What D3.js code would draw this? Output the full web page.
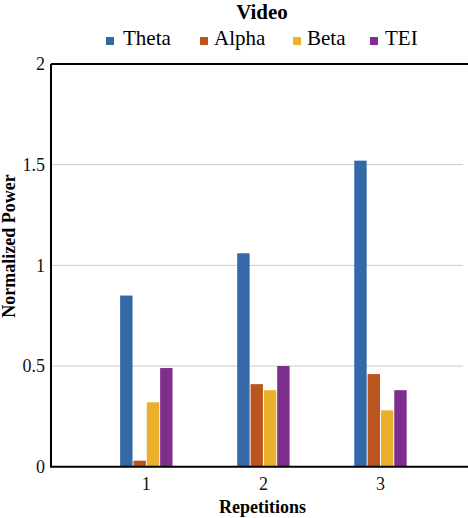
<!DOCTYPE html>
<html>
<head>
<meta charset="utf-8">
<script src="https://cdn.jsdelivr.net/npm/d3@7/dist/d3.min.js"></script>
</head>
<body style="margin:0">
<div id="chart"></div>
<script>
'use strict';

/* ── Data ── */
const categories = ['1', '2', '3'];
const seriesNames = ['Theta', 'Alpha', 'Beta', 'TEI'];
const theta = [0.85, 1.06, 1.52];
const alpha = [0.03, 0.41, 0.46];
const beta  = [0.32, 0.38, 0.28];
const tei   = [0.49, 0.50, 0.38];
const yTicks = [0, 0.5, 1, 1.5, 2];
const yTickLabels = ['0', '0.5', '1', '1.5', '2'];
const colors = ['#3469a7', '#bb551f', '#ebb02b', '#7e2f8d'];

const seriesValues = [theta, alpha, beta, tei];
const SERIF = 'Liberation Serif';

/* ── Layout ── */
const W = 468, H = 518;
const plotLeft = 51, plotRight = 468, gridRight = 463;

const svg = d3.select('#chart').append('svg')
  .attr('width', W)
  .attr('height', H)
  .attr('font-family', SERIF)
  .style('display', 'block');

const y = d3.scaleLinear().domain([0, 2]).range([466.7, 64]);
const x = d3.scaleBand().domain(categories).range([87.8, 439]);
const xInner = d3.scaleBand().domain(seriesNames).range([-26.2, 26.2]).paddingInner(0.07);

/* ── Gridlines ── */
svg.append('g')
  .selectAll('line')
  .data(yTicks.filter(v => v > 0 && v < 2))
  .join('line')
  .attr('x1', plotLeft).attr('x2', gridRight)
  .attr('y1', d => y(d)).attr('y2', d => y(d))
  .attr('stroke', '#c9c9c9')
  .attr('stroke-width', 1);

/* ── Bars ── */
const groups = svg.append('g')
  .selectAll('g')
  .data(categories)
  .join('g')
  .attr('transform', d => `translate(${x(d) + x.bandwidth() / 2},0)`);

groups.selectAll('rect')
  .data((c, i) => seriesNames.map((s, k) => ({ s, k, v: seriesValues[k][i] })))
  .join('rect')
  .attr('x', d => xInner(d.s))
  .attr('width', xInner.bandwidth())
  .attr('y', d => y(d.v))
  .attr('height', d => y(0) - y(d.v))
  .attr('fill', d => colors[d.k]);

/* ── Axes ── */
const yAxis = svg.append('g')
  .attr('transform', `translate(${plotLeft},0)`)
  .call(d3.axisLeft(y).tickValues(yTicks).tickFormat((d, i) => yTickLabels[i]).tickSize(0).tickPadding(6));
yAxis.select('.domain').remove();
yAxis.selectAll('text')
  .attr('font-family', SERIF)
  .attr('font-size', 18)
  .attr('fill', '#111');

const xAxis = svg.append('g')
  .attr('transform', `translate(0,${y(0)})`)
  .call(d3.axisBottom(x).tickSize(0).tickPadding(11));
xAxis.select('.domain').remove();
xAxis.selectAll('text')
  .attr('font-family', SERIF)
  .attr('font-size', 18)
  .attr('fill', '#111');

// frame lines: left, bottom, top
svg.append('line')
  .attr('x1', plotLeft).attr('x2', plotLeft)
  .attr('y1', y(2)).attr('y2', y(0) + 1)
  .attr('stroke', '#000').attr('stroke-width', 2);
svg.append('line')
  .attr('x1', plotLeft).attr('x2', plotRight)
  .attr('y1', y(0)).attr('y2', y(0))
  .attr('stroke', '#000').attr('stroke-width', 2);
svg.append('line')
  .attr('x1', plotLeft).attr('x2', plotRight)
  .attr('y1', y(2)).attr('y2', y(2))
  .attr('stroke', '#000').attr('stroke-width', 2);

/* ── Titles ── */
svg.append('text')
  .attr('x', 262).attr('y', 19)
  .attr('text-anchor', 'middle')
  .attr('font-family', SERIF)
  .attr('font-size', 21).attr('font-weight', 'bold')
  .text('Video');

svg.append('text')
  .attr('x', 262.5).attr('y', 513)
  .attr('text-anchor', 'middle')
  .attr('font-family', SERIF)
  .attr('font-size', 18).attr('font-weight', 'bold')
  .text('Repetitions');

svg.append('text')
  .attr('transform', 'translate(15,246) rotate(-90)')
  .attr('text-anchor', 'middle')
  .attr('font-family', SERIF)
  .attr('font-size', 18).attr('font-weight', 'bold')
  .text('Normalized Power');

/* ── Legend ── */
const legendX = [106, 200, 293, 370];
const legend = svg.append('g')
  .selectAll('g')
  .data(seriesNames)
  .join('g')
  .attr('transform', (d, i) => `translate(${legendX[i]},45)`);
legend.append('rect')
  .attr('x', 0).attr('y', -8)
  .attr('width', 8).attr('height', 8)
  .attr('fill', (d, i) => colors[i]);
legend.append('text')
  .attr('x', (d, i) => [17, 14, 14, 15][i])
  .attr('y', 0)
  .attr('font-family', SERIF)
  .attr('font-size', 21)
  .text(d => d);
</script>
</body>
</html>
